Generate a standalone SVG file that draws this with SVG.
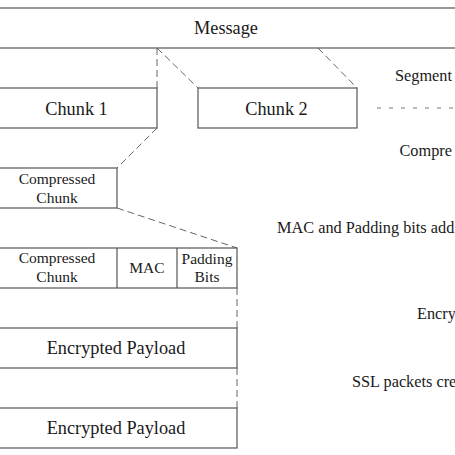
<svg xmlns="http://www.w3.org/2000/svg" width="455" height="455" viewBox="0 0 455 455">
<style>
.box{fill:#fff;stroke:#555;stroke-width:1.2}
.dash{fill:none;stroke:#666;stroke-width:1;stroke-dasharray:7 4}
.dots{fill:none;stroke:#777;stroke-width:1.2;stroke-dasharray:4 8}
.big{font-size:18.3px;text-anchor:middle}
.sm{font-size:15.5px;text-anchor:middle}
.lbl{font-size:16.3px}
</style>
<rect width="455" height="455" fill="#fff"/>
<g id="connectors">
<line class="dash" x1="157" y1="48" x2="157" y2="88"/>
<line class="dash" x1="157" y1="48" x2="198" y2="88"/>
<line class="dash" x1="318" y1="48" x2="357" y2="88"/>
<line class="dash" x1="157" y1="128" x2="117" y2="168"/>
<line class="dash" x1="117" y1="208" x2="237" y2="248"/>
<line class="dash" x1="237" y1="288" x2="237" y2="328"/>
<line class="dash" x1="237" y1="368" x2="237" y2="408"/>
<line class="dots" x1="377" y1="108" x2="455" y2="108"/>
</g>
<g font-family="'Liberation Serif', 'DejaVu Serif', serif" fill="#1a1a1a">
<g id="message">
<rect class="box" x="-10" y="8" width="480" height="40"/>
<text class="big" x="226" y="34.3">Message</text>
</g>
<g id="chunk1">
<rect class="box" x="-10" y="88" width="167" height="40"/>
<text class="big" x="76.5" y="115">Chunk 1</text>
</g>
<g id="chunk2">
<rect class="box" x="198" y="88" width="159" height="40"/>
<text class="big" x="276.5" y="115">Chunk 2</text>
</g>
<g id="compressed">
<rect class="box" x="-10" y="168" width="127" height="40"/>
<text class="sm" x="57" y="184">Compressed</text>
<text class="sm" x="57" y="203">Chunk</text>
</g>
<g id="mac-record">
<rect class="box" x="-10" y="248" width="247" height="40"/>
<line class="box" x1="117" y1="248" x2="117" y2="288"/>
<line class="box" x1="177" y1="248" x2="177" y2="288"/>
<text class="sm" x="57" y="263">Compressed</text>
<text class="sm" x="57" y="282">Chunk</text>
<text class="sm" x="147" y="272.5">MAC</text>
<text class="sm" x="207" y="264">Padding</text>
<text class="sm" x="207" y="282">Bits</text>
</g>
<g id="payload1">
<rect class="box" x="-10" y="328" width="247" height="40"/>
<text class="big" x="116" y="354">Encrypted Payload</text>
</g>
<g id="payload2">
<rect class="box" x="-10" y="408" width="247" height="40"/>
<text class="big" x="116" y="434">Encrypted Payload</text>
</g>
<g id="labels">
<text class="lbl" x="395" y="81">Segment</text>
<text class="lbl" x="399.5" y="156">Compre</text>
<text class="lbl" x="277" y="232.5">MAC and Padding bits  add</text>
<text class="lbl" x="417" y="319">Encry</text>
<text class="lbl" x="352" y="387">SSL packets cre</text>
</g>
</g>
</svg>
